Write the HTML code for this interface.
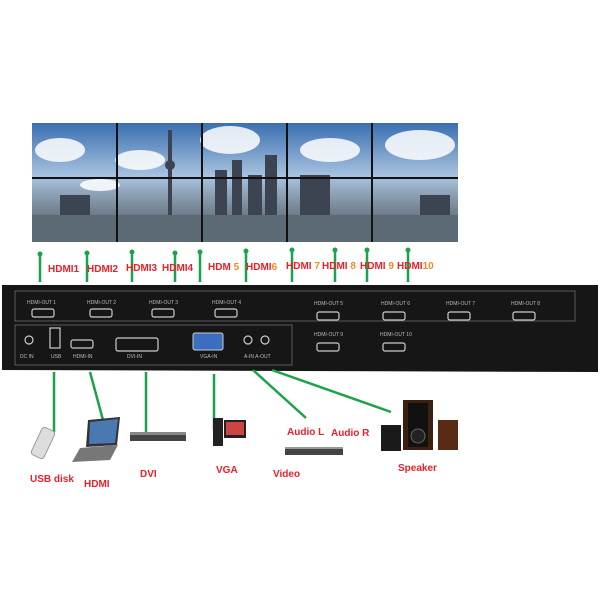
<!DOCTYPE html>
<html><head><style>body{margin:0;background:#fff}svg{display:block}text{font-family:"Liberation Sans",sans-serif}</style></head><body>
<svg width="600" height="600" viewBox="0 0 600 600" xmlns="http://www.w3.org/2000/svg">
<defs>
<linearGradient id="sky" x1="0" y1="0" x2="0" y2="1">
<stop offset="0" stop-color="#3a6fb0"/><stop offset="0.45" stop-color="#a9c3e0"/><stop offset="0.7" stop-color="#7a8a9a"/><stop offset="1" stop-color="#4a5560"/></linearGradient>
</defs>
<rect x="32" y="123" width="426" height="119" fill="url(#sky)"/>
<g fill="#fff" opacity="0.85">
<ellipse cx="60" cy="150" rx="25" ry="12"/><ellipse cx="140" cy="160" rx="25" ry="10"/><ellipse cx="230" cy="140" rx="30" ry="14"/>
<ellipse cx="330" cy="150" rx="30" ry="12"/><ellipse cx="420" cy="145" rx="35" ry="15"/><ellipse cx="100" cy="185" rx="20" ry="6"/>
</g>
<g fill="#3b4450">
<rect x="215" y="170" width="12" height="45"/><rect x="232" y="160" width="10" height="55"/><rect x="248" y="175" width="14" height="40"/>
<rect x="265" y="155" width="12" height="60"/><rect x="168" y="130" width="4" height="85"/><circle cx="170" cy="165" r="5"/>
<rect x="300" y="175" width="30" height="40"/><rect x="60" y="195" width="30" height="20"/><rect x="420" y="195" width="30" height="20"/>
</g>
<rect x="32" y="215" width="426" height="27" fill="#5b6a74"/>
<g stroke="#111" stroke-width="2"><line x1="117" y1="123" x2="117" y2="242"/><line x1="202" y1="123" x2="202" y2="242"/><line x1="287" y1="123" x2="287" y2="242"/><line x1="372" y1="123" x2="372" y2="242"/><line x1="32" y1="178" x2="458" y2="178"/></g>
<g stroke="#1aa34a" stroke-width="2.5" fill="#1aa34a">
<line x1="40" y1="256" x2="40" y2="282"/><line x1="87" y1="255" x2="87" y2="282"/><line x1="132" y1="254" x2="132" y2="282"/><line x1="175" y1="255" x2="175" y2="282"/><line x1="200" y1="254" x2="200" y2="282"/><line x1="246" y1="253" x2="246" y2="282"/><line x1="292" y1="252" x2="292" y2="282"/><line x1="335" y1="252" x2="335" y2="282"/><line x1="367" y1="252" x2="367" y2="282"/><line x1="408" y1="252" x2="408" y2="282"/>
</g>
<g fill="#1aa34a"><circle cx="40" cy="254" r="2.5"/><circle cx="87" cy="253" r="2.5"/><circle cx="132" cy="252" r="2.5"/><circle cx="175" cy="253" r="2.5"/><circle cx="200" cy="252" r="2.5"/><circle cx="246" cy="251" r="2.5"/><circle cx="292" cy="250" r="2.5"/><circle cx="335" cy="250" r="2.5"/><circle cx="367" cy="250" r="2.5"/><circle cx="408" cy="250" r="2.5"/></g>
<g font-size="10" font-weight="bold" fill="#e8202a">
<text x="48" y="272">HDMI1</text><text x="87" y="272">HDMI2</text><text x="126" y="271">HDMI3</text><text x="162" y="271">HDMI4</text><text x="208" y="270">HDM <tspan fill="#f08a24">5</tspan></text><text x="246" y="270">HDMI<tspan fill="#f08a24">6</tspan></text><text x="286" y="269">HDMI<tspan fill="#f08a24"> 7</tspan></text><text x="322" y="269">HDMI<tspan fill="#f08a24"> 8</tspan></text><text x="360" y="269">HDMI<tspan fill="#f08a24"> 9</tspan></text><text x="397" y="269">HDMI<tspan fill="#f08a24">10</tspan></text>
</g>
<polygon points="2,285 598,285 598,372 2,370" fill="#161616"/>
<rect x="15" y="291" width="560" height="30" fill="none" stroke="#777" stroke-width="0.7"/>
<rect x="15" y="325" width="277" height="40" fill="none" stroke="#777" stroke-width="0.7"/>
<g fill="none" stroke="#ccc" stroke-width="1.2">
<rect x="32" y="309" width="22" height="8" rx="2"/><rect x="90" y="309" width="22" height="8" rx="2"/><rect x="152" y="309" width="22" height="8" rx="2"/><rect x="215" y="309" width="22" height="8" rx="2"/>
<rect x="317" y="312" width="22" height="8" rx="2"/><rect x="383" y="312" width="22" height="8" rx="2"/><rect x="448" y="312" width="22" height="8" rx="2"/><rect x="513" y="312" width="22" height="8" rx="2"/>
<rect x="317" y="343" width="22" height="8" rx="2"/><rect x="383" y="343" width="22" height="8" rx="2"/>
<rect x="71" y="340" width="22" height="8" rx="2"/><rect x="116" y="338" width="42" height="13" rx="2"/>
<rect x="50" y="328" width="10" height="20"/><circle cx="29" cy="340" r="4"/><circle cx="248" cy="340" r="4"/><circle cx="265" cy="340" r="4"/>
</g>
<rect x="193" y="333" width="30" height="17" rx="2" fill="#3a6fc0" stroke="#ccc"/>
<g font-size="5" fill="#bbb">
<text x="27" y="304">HDMI-OUT 1</text><text x="87" y="304">HDMI-OUT 2</text><text x="149" y="304">HDMI-OUT 3</text><text x="212" y="304">HDMI-OUT 4</text>
<text x="314" y="305">HDMI-OUT 5</text><text x="381" y="305">HDMI-OUT 6</text><text x="446" y="305">HDMI-OUT 7</text><text x="511" y="305">HDMI-OUT 8</text>
<text x="314" y="336">HDMI-OUT 9</text><text x="380" y="336">HDMI-OUT 10</text>
<text x="20" y="358">DC IN</text><text x="51" y="358">USB</text><text x="73" y="358">HDMI-IN</text><text x="127" y="358">DVI-IN</text><text x="200" y="358">VGA-IN</text><text x="244" y="358">A-IN A-OUT</text>
</g>
<g stroke="#1aa34a" stroke-width="2.5" fill="none">
<line x1="54" y1="372" x2="54" y2="432"/><line x1="90" y1="372" x2="103" y2="420"/><line x1="146" y1="372" x2="146" y2="436"/><line x1="214" y1="374" x2="214" y2="430"/><line x1="253" y1="370" x2="306" y2="418"/><line x1="272" y1="370" x2="391" y2="412"/>
</g>
<g>
<rect x="36" y="428" width="14" height="30" rx="3" fill="#ddd" stroke="#999" transform="rotate(25 43 443)"/>
<polygon points="88,420 120,417 117,445 86,447" fill="#333"/><polygon points="90,422 118,419 115,443 89,444" fill="#4a78b0"/><polygon points="80,448 118,445 110,460 72,462" fill="#777"/>
<rect x="130" y="432" width="56" height="9" fill="#444"/><rect x="130" y="432" width="56" height="3" fill="#888"/>
<rect x="213" y="418" width="10" height="28" fill="#222"/><rect x="224" y="420" width="22" height="18" fill="#222"/><rect x="226" y="422" width="18" height="13" fill="#c44"/>
<rect x="285" y="447" width="58" height="8" fill="#444"/><rect x="285" y="447" width="58" height="2" fill="#999"/>
<rect x="381" y="425" width="20" height="26" fill="#1a1a1a"/><rect x="403" y="400" width="30" height="50" fill="#3b2010"/><rect x="408" y="403" width="20" height="44" fill="#111"/><circle cx="418" cy="436" r="7" fill="#222" stroke="#666"/><rect x="438" y="420" width="20" height="30" fill="#5a2b14"/>
</g>
<g font-size="10" font-weight="bold" fill="#e8202a">
<text x="30" y="482">USB disk</text><text x="84" y="487">HDMI</text><text x="140" y="477">DVI</text><text x="216" y="473">VGA</text><text x="273" y="477">Video</text><text x="287" y="435">Audio L</text><text x="331" y="436">Audio R</text><text x="398" y="471">Speaker</text>
</g>
</svg>
</body></html>
